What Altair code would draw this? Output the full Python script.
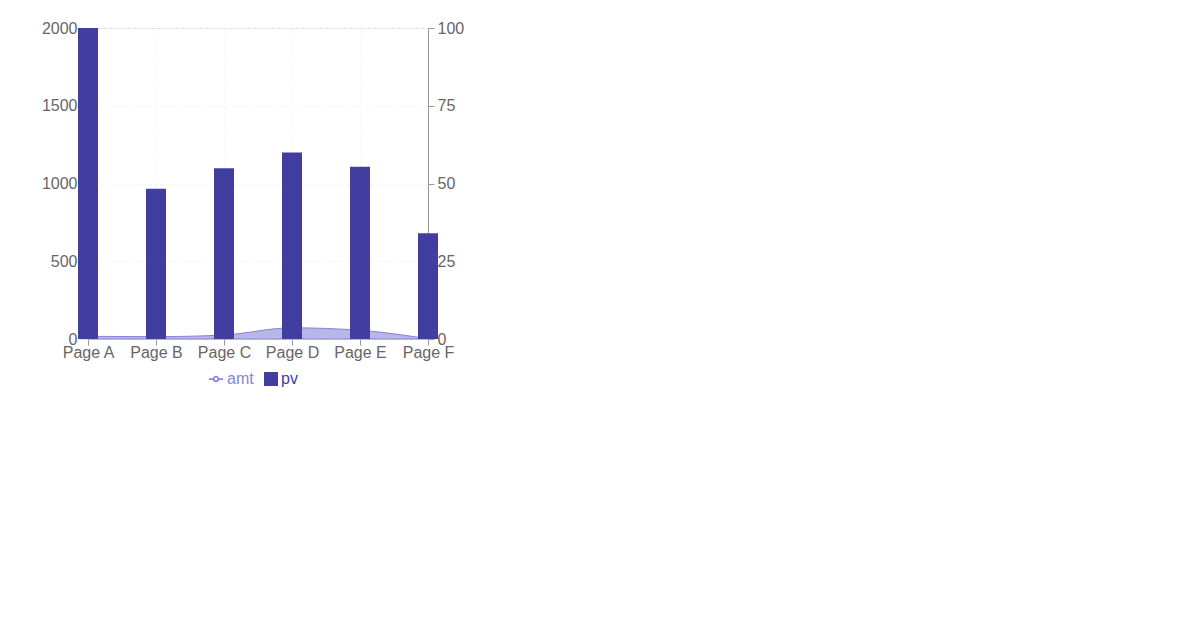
import altair as alt
import pandas as pd

categories = ["Page A", "Page B", "Page C", "Page D", "Page E", "Page F"]
pv = [2000, 967, 1098, 1200, 1108, 680]
amt = [0.85, 0.75, 1.3, 3.6, 2.8, 0.1]

df = pd.DataFrame({"name": categories, "pv": pv, "amt": amt})
df["s_pv"] = "pv"
df["s_amt"] = "amt"

FONT = "Liberation Sans"
GRID = "#f3f3f3"

x_enc = alt.X(
    "name:N",
    sort=categories,
    scale=alt.Scale(type="point", range=[8, 348], padding=0),
    axis=alt.Axis(
        title=None, domain=False, tickColor="#999", tickSize=6, labelPadding=-1,
        labelAngle=0, grid=True, gridColor=GRID, gridDash=[3, 3],
        labelFontSize=16, labelColor="#666", labelFont=FONT,
    ),
)

icon_path = (
    "M-1,-0.125H-0.42V0.125H-1Z"
    "M0.42,-0.125H1V0.125H0.42Z"
    "M0.458,0A0.458,0.458,0,1,1,-0.458,0A0.458,0.458,0,1,1,0.458,0Z"
    "M0.208,0A0.208,0.208,0,1,0,-0.208,0A0.208,0.208,0,1,0,0.208,0Z"
)

area = alt.Chart(df).mark_area(
    interpolate="monotone", fill="#8884d8", fillOpacity=0.6, strokeWidth=1
).encode(
    x=x_enc,
    y=alt.Y(
        "amt:Q",
        scale=alt.Scale(domain=[0, 100], nice=False),
        axis=alt.Axis(
            orient="right", title=None, values=[0, 25, 50, 75, 100],
            domainColor="#999", tickColor="#999", tickSize=6, labelPadding=3,
            grid=False, labelFontSize=16, labelColor="#666", labelFont=FONT,
        ),
    ),
    stroke=alt.Stroke(
        "s_amt:N",
        scale=alt.Scale(domain=["amt"], range=["#8884d8"]),
        legend=alt.Legend(
            title=None, orient="none", legendX=128, legendY=343, padding=0,
            symbolType=icon_path, symbolSize=196, symbolStrokeWidth=0,
            symbolFillColor="#8884d8", symbolOpacity=1, labelOffset=3,
            labelColor="#8884d8", labelFontSize=16, labelFont=FONT,
        ),
    ),
)

bars = alt.Chart(df).mark_bar(size=20).encode(
    x=x_enc,
    y=alt.Y(
        "pv:Q",
        scale=alt.Scale(domain=[0, 2000], nice=False),
        axis=alt.Axis(
            orient="left", title=None, values=[0, 500, 1000, 1500, 2000],
            format="d", domain=False, ticks=False, tickSize=0, labelPadding=3,
            grid=True, gridColor=GRID, gridDash=[3, 3],
            labelFontSize=16, labelColor="#666", labelFont=FONT,
        ),
    ),
    color=alt.Color(
        "s_pv:N",
        scale=alt.Scale(domain=["pv"], range=["#413ea0"]),
        legend=alt.Legend(
            title=None, orient="none", legendX=183, legendY=343, padding=0,
            symbolType="square", symbolSize=196, symbolStrokeWidth=0,
            symbolOpacity=1, labelOffset=2,
            labelColor="#413ea0", labelFontSize=16, labelFont=FONT,
        ),
    ),
)

chart = alt.layer(area, bars).resolve_scale(y="independent").properties(
    width=348, height=311,
    autosize=alt.AutoSizeParams(type="none"),
    padding={"left": 72, "top": 20, "right": 700, "bottom": 250},
).configure_view(stroke=None).configure(font=FONT)

chart.save("out.html", embed_options={"renderer": "svg", "actions": False})
